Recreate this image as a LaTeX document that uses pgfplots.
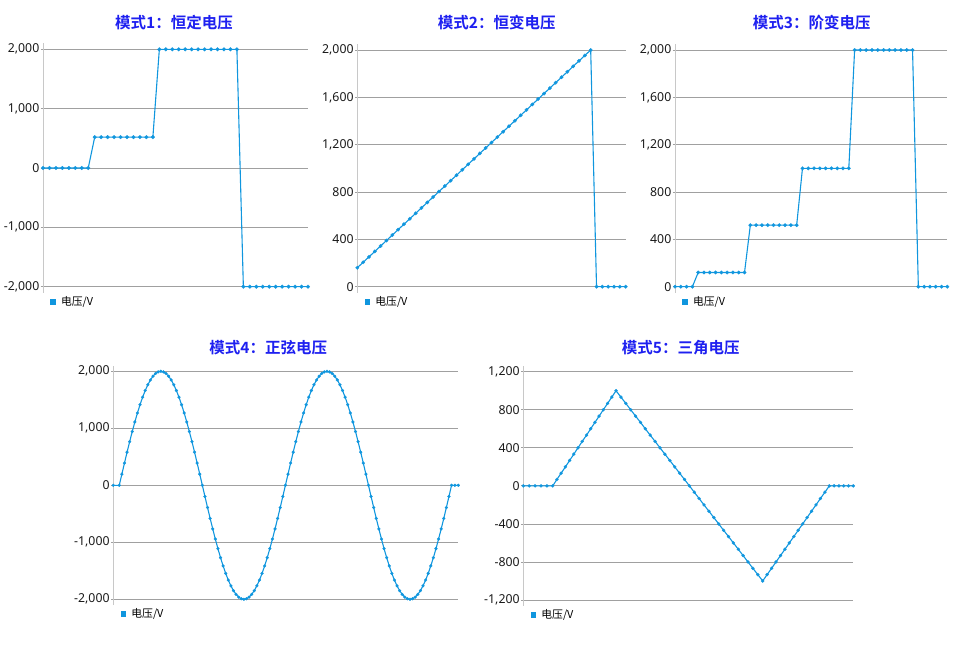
\documentclass[border=0pt]{standalone}
\usepackage{fontspec}
\setmainfont{Noto Sans}
\newfontfamily\cjk[BoldFont={Noto Sans CJK SC Bold}]{Noto Sans CJK SC}
\usepackage{pgfplots}
\pgfplotsset{compat=1.18}

\definecolor{vblue}{RGB}{16,150,222}
\definecolor{ttl}{RGB}{30,32,240}
\definecolor{gridc}{RGB}{160,160,160}
\definecolor{axc}{RGB}{200,200,200}

\pgfplotsset{
  vplot/.style={
    scale only axis,
    clip=false,
    enlarge x limits=false,
    axis x line=none,
    axis y line*=left,
    y axis line style={axc, line width=0.8pt},
    xtick=\empty,
    ymajorgrids,
    grid style={gridc, line width=0.8pt},
    ytick style={gridc, line width=0.8pt},
    major tick length=2.5pt,
    tick align=outside,
    yticklabel style={font=\fontsize{12.3}{14}\selectfont, text=black!90, inner sep=1pt},
    /pgf/number format/1000 sep={,},
    /pgf/number format/assume math mode=true,
    legend style={at={(axis description cs:0,0)}, anchor=west, xshift=7pt, yshift=-9pt,
      draw=none, fill=none, inner sep=0pt,
      font=\cjk\fontsize{10.8}{12}\selectfont},
    legend image code/.code={\fill[vblue] (0pt,-2.4pt) rectangle (4.8pt,2.4pt);},
  },
  vline/.style={vblue, line width=1.1pt, mark=*, mark size=#1,
    mark options={fill=vblue, draw=vblue, line width=0.2pt}},
}

\begin{document}
\begin{tikzpicture}
\useasboundingbox (0,0) rectangle (968pt,646pt);

% 模式1
\begin{axis}[vplot, at={(43pt,353.4pt)}, anchor=south west,
  width=265pt, height=249.2pt,
  xmin=0, xmax=41, ymin=-2000, ymax=2000, enlarge y limits={abs=100},
  ytick={-2000,-1000,0,1000,2000}]
\addplot[vline=1.9pt] table {
x y
0 0
1 0
2 0
3 0
4 0
5 0
6 0
7 0
8 520
9 520
10 520
11 520
12 520
13 520
14 520
15 520
16 520
17 520
18 2000
19 2000
20 2000
21 2000
22 2000
23 2000
24 2000
25 2000
26 2000
27 2000
28 2000
29 2000
30 2000
31 -2000
32 -2000
33 -2000
34 -2000
35 -2000
36 -2000
37 -2000
38 -2000
39 -2000
40 -2000
41 -2000
};
\addlegendentry{\hspace{3pt}电压/V}
\end{axis}

% 模式2
\begin{axis}[vplot, at={(357.3pt,353.4pt)}, anchor=south west,
  width=268.4pt, height=248.5pt,
  xmin=0, xmax=46, ymin=0, ymax=2000, enlarge y limits={abs=50},
  ytick={0,400,800,1200,1600,2000}]
\addplot[vline=1.8pt] table {
x y
0 160
1 206
2 252
3 298
4 344
5 390
6 436
7 482
8 528
9 574
10 620
11 666
12 712
13 758
14 804
15 850
16 896
17 942
18 988
19 1034
20 1080
21 1126
22 1172
23 1218
24 1264
25 1310
26 1356
27 1402
28 1448
29 1494
30 1540
31 1586
32 1632
33 1678
34 1724
35 1770
36 1816
37 1862
38 1908
39 1954
40 2000
41 0
42 0
43 0
44 0
45 0
46 0
};
\addlegendentry{\hspace{3pt}电压/V}
\end{axis}

% 模式3
\begin{axis}[vplot, at={(675pt,353.4pt)}, anchor=south west,
  width=272.3pt, height=248.5pt,
  xmin=0, xmax=47, ymin=0, ymax=2000, enlarge y limits={abs=50},
  ytick={0,400,800,1200,1600,2000}]
\addplot[vline=1.8pt] table {
x y
0 0
1 0
2 0
3 0
4 120
5 120
6 120
7 120
8 120
9 120
10 120
11 120
12 120
13 520
14 520
15 520
16 520
17 520
18 520
19 520
20 520
21 520
22 1000
23 1000
24 1000
25 1000
26 1000
27 1000
28 1000
29 1000
30 1000
31 2000
32 2000
33 2000
34 2000
35 2000
36 2000
37 2000
38 2000
39 2000
40 2000
41 2000
42 0
43 0
44 0
45 0
46 0
47 0
};
\addlegendentry{\hspace{3pt}电压/V}
\end{axis}

% 模式4
\begin{axis}[vplot, at={(113.3pt,41pt)}, anchor=south west,
  width=345pt, height=239.4pt,
  xmin=-2.3, xmax=130.6, ymin=-2000, ymax=2000, enlarge y limits={abs=100},
  ytick={-2000,-1000,0,1000,2000}]
\addplot[vline=1.5pt] table {
x y
-2.3 0
0 0
1 196
2 390
3 581
4 765
5 943
6 1111
7 1269
8 1414
9 1546
10 1663
11 1764
12 1848
13 1914
14 1962
15 1990
16 2000
17 1990
18 1962
19 1914
20 1848
21 1764
22 1663
23 1546
24 1414
25 1269
26 1111
27 943
28 765
29 581
30 390
31 196
32 0
33 -196
34 -390
35 -581
36 -765
37 -943
38 -1111
39 -1269
40 -1414
41 -1546
42 -1663
43 -1764
44 -1848
45 -1914
46 -1962
47 -1990
48 -2000
49 -1990
50 -1962
51 -1914
52 -1848
53 -1764
54 -1663
55 -1546
56 -1414
57 -1269
58 -1111
59 -943
60 -765
61 -581
62 -390
63 -196
64 0
65 196
66 390
67 581
68 765
69 943
70 1111
71 1269
72 1414
73 1546
74 1663
75 1764
76 1848
77 1914
78 1962
79 1990
80 2000
81 1990
82 1962
83 1914
84 1848
85 1764
86 1663
87 1546
88 1414
89 1269
90 1111
91 943
92 765
93 581
94 390
95 196
96 0
97 -196
98 -390
99 -581
100 -765
101 -943
102 -1111
103 -1269
104 -1414
105 -1546
106 -1663
107 -1764
108 -1848
109 -1914
110 -1962
111 -1990
112 -2000
113 -1990
114 -1962
115 -1914
116 -1848
117 -1764
118 -1663
119 -1546
120 -1414
121 -1269
122 -1111
123 -943
124 -765
125 -581
126 -390
127 -196
128 0
129.3 0
130.6 0
};
\addlegendentry{\hspace{3pt}电压/V}
\end{axis}

% 模式5
\begin{axis}[vplot, at={(523.3pt,40.3pt)}, anchor=south west,
  width=330pt, height=239.7pt,
  xmin=0, xmax=330, ymin=-1200, ymax=1200, enlarge y limits={abs=60},
  ytick={-1200,-800,-400,0,400,800,1200}]
\addplot[vline=1.6pt] table {
x y
0 0
5.9 0
11.8 0
17.7 0
23.6 0
29.4 0
33.6 67
37.8 133
42.1 200
46.3 267
50.5 333
54.7 400
58.9 467
63.2 533
67.4 600
71.6 667
75.8 733
80.0 800
84.3 867
88.5 933
92.7 1000
97.6 933
102.5 867
107.4 800
112.3 733
117.2 667
122.0 600
126.9 533
131.8 467
136.7 400
141.6 333
146.5 267
151.4 200
156.3 133
161.2 67
166.1 0
171.0 -67
175.8 -133
180.7 -200
185.6 -267
190.5 -333
195.4 -400
200.3 -467
205.2 -533
210.1 -600
215.0 -667
219.8 -733
224.7 -800
229.6 -867
234.5 -933
239.4 -1000
243.8 -933
248.3 -867
252.7 -800
257.2 -733
261.6 -667
266.0 -600
270.5 -533
274.9 -467
279.4 -400
283.8 -333
288.2 -267
292.7 -200
297.1 -133
301.6 -67
306.0 0
310.8 0
315.6 0
320.4 0
325.2 0
330.0 0
};
\addlegendentry{\hspace{3pt}电压/V}
\end{axis}

% titles
\begin{scope}[every node/.style={text=ttl, font=\cjk\bfseries\fontsize{15.5}{18}\selectfont}]
\node at (174pt,623pt) {模式1：恒定电压};
\node at (496.7pt,623pt) {模式2：恒变电压};
\node at (811.7pt,623pt) {模式3：阶变电压};
\node at (268.3pt,298.3pt) {模式4：正弦电压};
\node at (680.8pt,298.3pt) {模式5：三角电压};
\end{scope}
\end{tikzpicture}
\end{document}
